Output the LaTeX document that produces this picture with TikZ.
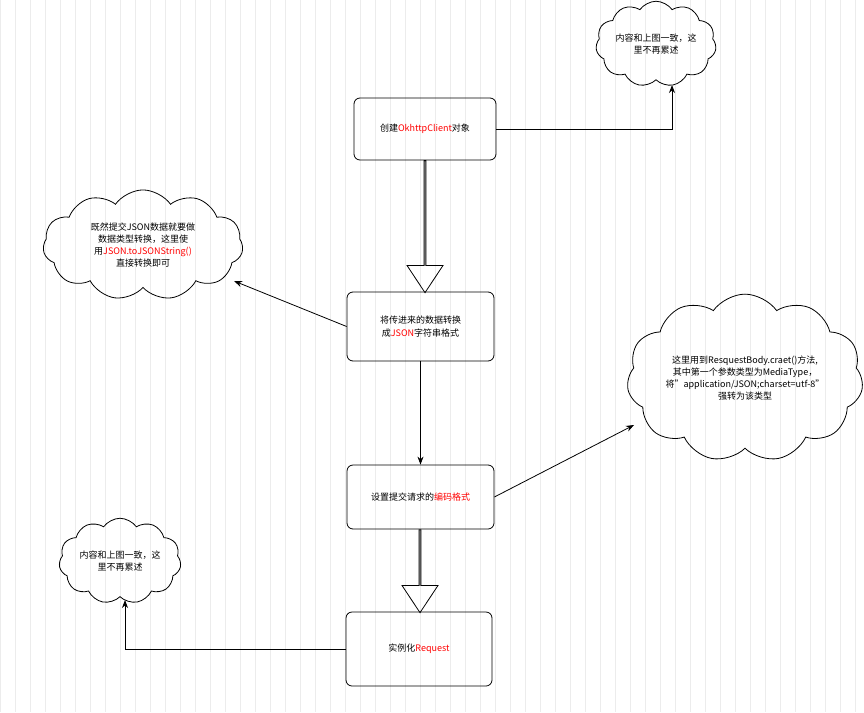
\documentclass[tikz,border=0pt]{standalone}
\usepackage{fontspec}
\setmainfont{Noto Sans CJK SC}
\usetikzlibrary{shapes.symbols,shapes.arrows,arrows.meta}
\begin{document}
\begin{tikzpicture}[x=1pt,y=-1pt,
  box/.style={draw,thick,rounded corners=6pt,align=center,font=\fontsize{9}{13}\selectfont,inner sep=0},
  cl/.style={cloud,draw,thick,cloud puffs=11,cloud puff arc=110,aspect=1.6,align=center,font=\fontsize{9}{12}\selectfont,inner sep=0},
  conn/.style={-{Stealth[length=8pt,width=6pt]},thick},
  hollow/.style={single arrow,draw,thick,shape border rotate=270,minimum width=36pt,single arrow head extend=8pt,single arrow tip angle=67,inner sep=0},
  red/.style={text=red}]
\useasboundingbox (0,0) rectangle (864,712);
\draw[step=15,gray!15,thin] (0,0) grid (864,712);
\node[box,minimum width=142,minimum height=62] (b1) at (425,129) {创建\textcolor{red}{OkhttpClient}对象};
\node[box,minimum width=147,minimum height=69] (b2) at (420.5,326.5) {将传进来的数据转换\\成\textcolor{red}{JSON}字符串格式};
\node[box,minimum width=147,minimum height=64] (b3) at (420.5,497) {设置提交请求的\textcolor{red}{编码格式}};
\node[box,minimum width=146,minimum height=74] (b4) at (419,649) {实例化\textcolor{red}{Request}};
\node[cl,minimum width=100,minimum height=75] (c1) at (656,44) {内容和上图一致，这\\里不再累述};
\node[cl,minimum width=200,minimum height=100] (c2) at (143,245) {既然提交JSON数据就要做\\数据类型转换，这里使\\用\textcolor{red}{JSON.toJSONString()}\\直接转换即可};
\node[cl,minimum width=235,minimum height=150] (c3) at (745,378) {这里用到ResquestBody.craet()方法,\\其中第一个参数类型为MediaType，\\将"application/JSON;charset=utf-8"\\强转为该类型};
\node[cl,minimum width=122,minimum height=75] (c4) at (120,561) {内容和上图一致，这\\里不再累述};
\node[hollow,minimum height=132] (h1) at (425,226) {};
\node[hollow,minimum height=83] (h2) at (420,570.5) {};
\coordinate (t1) at (672,85);
\coordinate (t4) at (125,600);
\coordinate (t2) at (234,281);
\coordinate (t3) at (634,425);
\draw[conn] (b1.east) -| (t1);
\draw[conn] (b2.west) -- (t2);
\draw[conn] (b2.south) -- (b3.north);
\draw[conn] (b3.east) -- (t3);
\draw[conn] (b4.west) -| (t4);
\end{tikzpicture}
\end{document}
